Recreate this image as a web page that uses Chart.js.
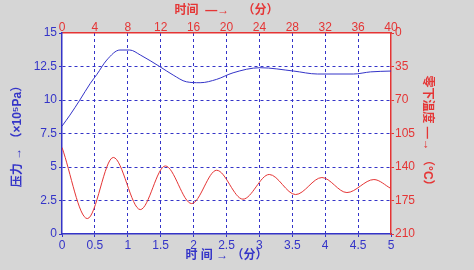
<!DOCTYPE html>
<html>
<head>
<meta charset="utf-8">
<script src="https://cdn.jsdelivr.net/npm/chart.js@4/dist/chart.umd.min.js"></script>
<style>
  html, body { margin: 0; padding: 0; background: #d6d6d6; }
  #wrap { width: 474px; height: 270px; }
</style>
</head>
<body>
<div id="wrap"><canvas id="myChart" width="474" height="270"></canvas></div>
<script>
// Druck (blau), Zeit in Minuten unten 0..5
var druckZeit = [0, 0.12, 0.27, 0.43, 0.53, 0.68, 0.88, 1.03, 1.19, 1.49, 1.69, 1.89, 2.1, 2.35, 2.6, 3.01, 3.52, 3.88, 4.43, 4.69, 5];
var druckWerte = [8.05, 8.87, 9.99, 11.24, 11.91, 12.98, 13.73, 13.73, 13.36, 12.48, 11.86, 11.36, 11.29, 11.54, 12.03, 12.41, 12.16, 11.94, 11.94, 12.1, 12.16];

// Temperatur (rot), rechte Achse umgekehrt 0..210
var tempZeit = [0, 0.385, 0.78, 1.19, 1.57, 1.97, 2.35, 2.75, 3.15, 3.55, 3.95, 4.33, 4.74, 5];
var tempWerte = [119.6, 193.9, 130, 184.5, 138.9, 178.2, 143.4, 173.6, 147.8, 168.8, 151, 166.7, 153.1, 162.5];

var blau = "#3434c8";
var rot = "#e53535";
var schrift = { family: "Liberation Sans, Arial", size: 12 };
var titelSchrift = { family: "Liberation Sans, Noto Sans CJK SC", size: 12, weight: "bold" };

function punkte(xs, ys) {
  return xs.map(function (x, i) { return { x: x, y: ys[i] }; });
}

// Kantenlinien nicht gestrichelt ueberzeichnen
function innenGrid(ctx) {
  var n = ctx.scale.ticks.length;
  if (ctx.index === 0 || ctx.index === n - 1) return "rgba(0,0,0,0)";
  return blau;
}

var hintergrund = {
  id: "hintergrund",
  beforeDraw: function (chart) {
    var c = chart.ctx, a = chart.chartArea;
    c.save();
    c.fillStyle = "#d6d6d6";
    c.fillRect(0, 0, chart.width, chart.height);
    c.fillStyle = "#ffffff";
    c.fillRect(a.left, a.top, a.right - a.left, a.bottom - a.top);
    c.restore();
  },
};

function breite(w) { return function (s) { s.width = w; }; }
function hoehe(h) { return function (s) { s.height = h; }; }

new Chart("myChart", {
  type: "line",
  data: {
    datasets: [
      {
        data: punkte(druckZeit, druckWerte),
        borderColor: blau,
        borderWidth: 1,
        pointRadius: 0,
        cubicInterpolationMode: "monotone",
        xAxisID: "x",
        yAxisID: "y",
      },
      {
        data: punkte(tempZeit, tempWerte),
        borderColor: rot,
        borderWidth: 1,
        pointRadius: 0,
        cubicInterpolationMode: "monotone",
        xAxisID: "x",
        yAxisID: "y2",
      },
    ],
  },
  options: {
    responsive: false,
    animation: false,
    layout: { padding: { right: 39 } },
    plugins: { legend: false, tooltip: { enabled: false } },
    scales: {
      x: {
        type: "linear",
        position: "bottom",
        min: 0, max: 5,
        afterFit: hoehe(36),
        ticks: { stepSize: 0.5, color: blau, font: schrift, padding: 1, maxRotation: 0,
          callback: function (v) { return String(v); } },
        grid: { color: innenGrid, tickColor: blau, tickLength: 3 },
        border: { color: blau, width: 1.5, dash: [3, 3] },
        title: { display: true, text: "时 间 → （分）", color: blau, font: titelSchrift, padding: { top: 0, bottom: 7 } },
      },
      x2: {
        type: "linear",
        position: "top",
        min: 0, max: 40,
        afterFit: hoehe(33),
        ticks: { stepSize: 4, color: rot, font: schrift, padding: -2, maxRotation: 0 },
        grid: { drawOnChartArea: false, drawTicks: false },
        border: { color: rot, width: 1.5 },
        title: { display: true, text: "时间  —→    （分）", color: rot, font: titelSchrift, padding: { top: 3, bottom: 2 } },
      },
      y: {
        position: "left",
        min: 0, max: 15,
        afterFit: breite(62),
        ticks: { stepSize: 2.5, color: blau, font: schrift, padding: 2 },
        grid: { color: innenGrid, tickColor: blau, tickLength: 3 },
        border: { color: blau, width: 1.5, dash: [3, 3] },
        title: { display: true, text: "压力 → （×10⁵Pa）", color: blau, font: titelSchrift, padding: { top: 10, bottom: 0 } },
      },
      y2: {
        position: "right",
        reverse: true,
        min: 0, max: 210,
        afterFit: breite(44),
        ticks: { stepSize: 35, color: rot, font: schrift, padding: 1 },
        grid: { drawOnChartArea: false, tickColor: rot, tickLength: 3 },
        border: { color: rot, width: 1.5 },
        title: { display: true, text: "零下温度 —→ （°C）", color: rot, font: titelSchrift, padding: { top: 0, bottom: 0 } },
      },
    },
  },
  plugins: [hintergrund],
});
</script>
</body>
</html>
